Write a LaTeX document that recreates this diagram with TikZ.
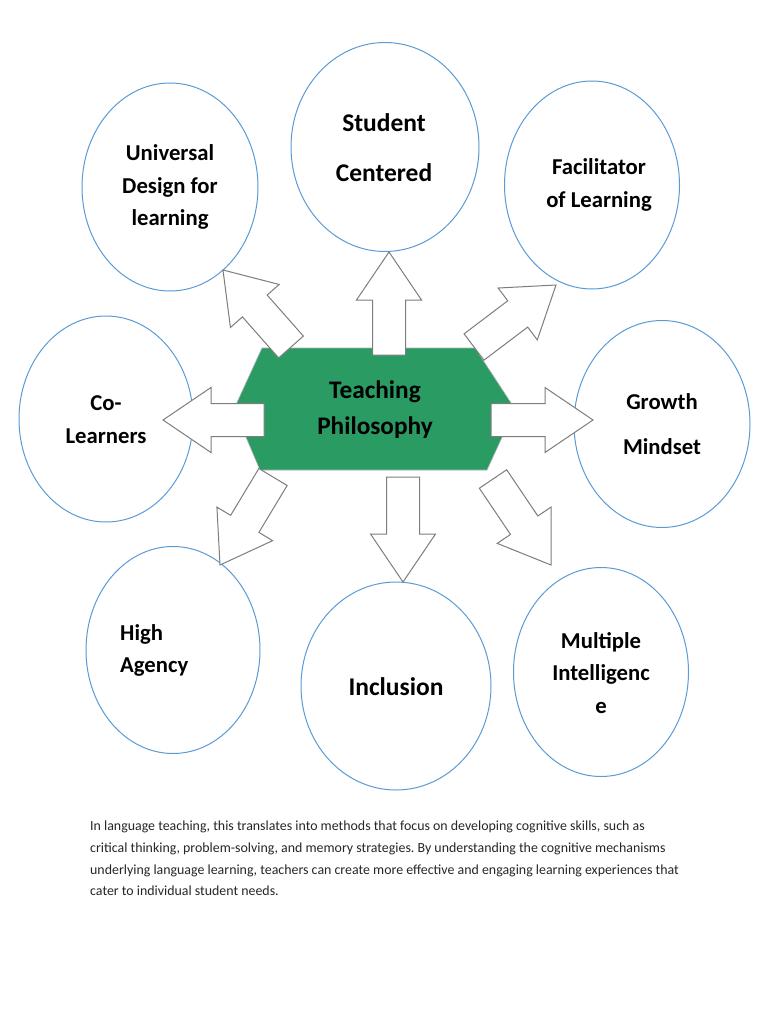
\documentclass[tikz,border=0pt]{standalone}
\usepackage{fontspec}
\setmainfont{Carlito}
\usetikzlibrary{shapes.geometric,calc}
\definecolor{ellblue}{RGB}{91,155,213}
\definecolor{hexgreen}{RGB}{42,155,99}
\definecolor{arrgray}{RGB}{125,125,125}
\newcommand\blockarr[2]{%
  \coordinate (#1-h) at ($(#2)!48pt!(#1)$);
  \draw[blockarrow] ($(#1)!16.5pt!90:(#2)$) -- ($(#1-h)!16.5pt!90:(#2)$) -- ($(#1-h)!32.5pt!90:(#2)$) -- (#2) -- ($(#1-h)!32.5pt!-90:(#2)$) -- ($(#1-h)!16.5pt!-90:(#2)$) -- ($(#1)!16.5pt!-90:(#2)$) -- cycle;
}
\begin{document}
\frenchspacing
\begin{tikzpicture}[x=1pt,y=-1pt,
  ell/.style={ellipse, draw=ellblue, line width=1pt, inner sep=0pt},
  lbl/.style={align=center, inner sep=0pt, font=\bfseries\fontsize{22.7}{32.5}\selectfont},
  blockarrow/.style={draw=arrgray, fill=white, line width=1pt, line join=miter},
  body/.style={align=left, inner sep=0pt, text=black!85, font=\fontsize{13.9}{21.7}\selectfont}]
\useasboundingbox (0,0) rectangle (768,1024);
\fill[white] (0,0) rectangle (768,1024);
% ellipses
\node[ell, minimum width=176pt, minimum height=208pt] (e1) at (170,187) {};
\node[ell, minimum width=188pt, minimum height=209pt] (e2) at (385,147) {};
\node[ell, minimum width=175pt, minimum height=208pt] (e3) at (592,185) {};
\node[ell, minimum width=174pt, minimum height=206pt] (e4) at (106,419) {};
\node[ell, minimum width=176pt, minimum height=207pt] (e5) at (662,424) {};
\node[ell, minimum width=174pt, minimum height=207pt] (e6) at (173,650) {};
\node[ell, minimum width=190pt, minimum height=208pt] (e7) at (396,686) {};
\node[ell, minimum width=175pt, minimum height=209pt] (e8) at (601,672) {};
% labels
\node[lbl] (t1) at (170,187) {Universal\\Design for\\learning};
\node[lbl, font=\bfseries\fontsize{25.5}{50}\selectfont] (t2) at (384,148) {Student\\Centered};
\node[lbl] (t3) at (599,185) {Facilitator\\of Learning};
\node[lbl] (t4) at (106,419.5) {Co-\\Learners};
\node[lbl, font=\bfseries\fontsize{22.7}{45}\selectfont] (t5) at (662,424.5) {Growth\\Mindset};
\node[lbl, align=left, anchor=west] (t6) at (120,650.5) {High\\Agency};
\node[lbl, font=\bfseries\fontsize{25.5}{32}\selectfont] (t7) at (396,687) {Inclusion};
\node[lbl] (t8) at (601,673) {Multiple\\Intelligenc\\e};
% central hexagon
\draw[fill=hexgreen, draw=gray!60, line width=0.6pt] (262,348) -- (475,348) -- (515,409) -- (487,470) -- (260,470) -- (234,409) -- cycle;
\node[lbl, font=\bfseries\fontsize{25.3}{36}\selectfont] (tp) at (375,410) {Teaching\\Philosophy};
% arrow endpoints
\coordinate (aU) at (389,355); \coordinate (aUt) at (389,252);
\coordinate (aD) at (403,477); \coordinate (aDt) at (403,582);
\coordinate (aL) at (264,420); \coordinate (aLt) at (163,420);
\coordinate (aR) at (491,420); \coordinate (aRt) at (593,420);
\coordinate (aUL) at (291,347); \coordinate (aULt) at (223,270);
\coordinate (aUR) at (474,347); \coordinate (aURt) at (556,285);
\coordinate (aLL) at (273,477); \coordinate (aLLt) at (220,565);
\coordinate (aLR) at (493,479); \coordinate (aLRt) at (551,565);
\blockarr{aU}{aUt}
\blockarr{aD}{aDt}
\blockarr{aL}{aLt}
\blockarr{aR}{aRt}
\blockarr{aUL}{aULt}
\blockarr{aUR}{aURt}
\blockarr{aLL}{aLLt}
\blockarr{aLR}{aLRt}
% paragraph
\node[body, anchor=north west] (para) at (90,821) {In language teaching, this translates into methods that focus on developing cognitive skills, such as\\critical thinking, problem-solving, and memory strategies. By understanding the cognitive mechanisms\\underlying language learning, teachers can create more effective and engaging learning experiences that\\cater to individual student needs.};
\end{tikzpicture}
\end{document}
